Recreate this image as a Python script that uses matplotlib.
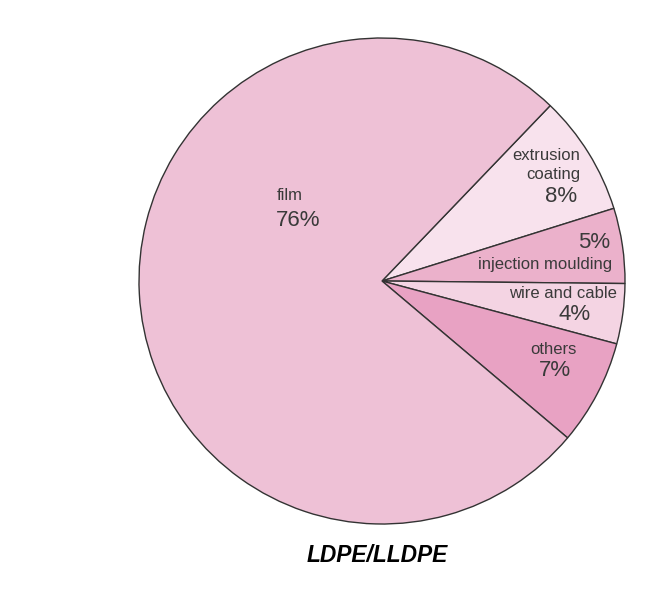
import matplotlib
matplotlib.use("Agg")
import matplotlib.pyplot as plt

# slices, clockwise from the upper right boundary
names = ["extrusion\ncoating", "injection moulding", "wire and cable", "others", "film"]
shares = [8, 5, 4, 7, 76]
colours = ["#F8E2ED", "#EBB1CB", "#F4D4E3", "#E8A2C3", "#EEC1D6"]

W, H = 664, 604
fig = plt.figure(figsize=(W / 100, H / 100), dpi=100)
ax = fig.add_axes([0, 0, 1, 1])

cx, cy, r = 382, H - 281, 243
ax.pie(shares, colors=colours, startangle=46.2, counterclock=False,
       center=(cx, cy), radius=r, frame=True,
       wedgeprops=dict(edgecolor="#333333", linewidth=1.0))
ax.set_xlim(0, W)
ax.set_ylim(0, H)
ax.set_aspect("equal")
ax.axis("off")

font = "Liberation Sans"
grey = "#3a3a3a"
small, big = 12, 16

def lab(x, y, s, size, ha="center"):
    ax.text(x, H - y, s, fontsize=size, ha=ha, va="center", color=grey, family=font)

# film
lab(290, 196, names[4], small)
lab(298, 220, f"{shares[4]}%", big)
# extrusion coating
top, bottom = names[0].split("\n")
lab(580, 155, top, small, ha="right")
lab(580, 174, bottom, small, ha="right")
lab(577, 197, f"{shares[0]}%", big, ha="right")
# injection moulding
lab(610, 242, f"{shares[1]}%", big, ha="right")
lab(545, 264, names[1], small)
# wire and cable
lab(563, 293, names[2], small)
lab(575, 315, f"{shares[2]}%", big)
# others
lab(553, 349, names[3], small)
lab(555, 371, f"{shares[3]}%", big)

ax.text(377, H - 556, "LDPE/LLDPE", fontsize=16.4, ha="center", va="center",
        fontweight="bold", fontstyle="italic", family=font, color="black")

fig.savefig("out.png", dpi=100)
